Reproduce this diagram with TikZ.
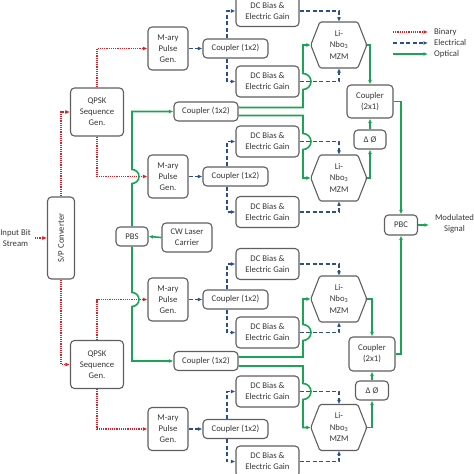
\documentclass[tikz,border=0pt]{standalone}
\usepackage{fontspec}
\setmainfont{Carlito}
\usetikzlibrary{arrows.meta,calc}
\definecolor{boxc}{RGB}{95,95,95}
\definecolor{txtc}{RGB}{55,55,55}
\definecolor{binc}{RGB}{225,30,35}
\definecolor{elecc}{RGB}{45,80,140}
\definecolor{optc}{RGB}{25,165,85}
\newcommand\mzmhex[2]{%
  \node[hexin] (#1) at (#2) {Li-\\Nbo\textsubscript{3}\\MZM};
  \draw[draw=boxc, line width=1.1pt, rounded corners=1.5pt] (#1.west) -- ++(9,-23) -- ++(38,0) -- ++(9,23) -- ++(-9,23) -- ++(-38,0) -- cycle;}
\begin{document}
\begin{tikzpicture}[x=1pt,y=-1pt,
  every node/.style={font=\fontsize{8.7}{11}\selectfont, text=txtc},
  box/.style={draw=boxc, line width=1.1pt, fill=white, rounded corners=4pt, align=center, inner sep=1pt},
  hexin/.style={align=center, inner sep=0pt, minimum width=56pt, minimum height=46pt, font=\fontsize{8.7}{11.5}\selectfont},
  tip/.style={-{Latex[length=4.5pt,width=4pt]}},
  bin/.style={draw=binc, line width=1.5pt, dash pattern=on 1.2pt off 1pt, tip},
  elec/.style={draw=elecc, line width=1.4pt, dash pattern=on 4pt off 2.5pt, tip},
  opt/.style={draw=optc, line width=1.6pt, tip},
  mary/.style={box, minimum width=40pt, minimum height=43pt},
  qpsk/.style={box, minimum width=53pt, minimum height=48pt},
  csmall/.style={box, minimum width=65pt, minimum height=19pt},
  cbig/.style={box, minimum width=64pt, minimum height=19pt},
  dcb/.style={box, minimum width=63pt, minimum height=31pt},
  ctwo/.style={box, minimum width=46pt, minimum height=33pt},
  dphi/.style={box, minimum width=32pt, minimum height=19pt}]
\useasboundingbox (0,0) rectangle (474,474);

% ---------- nodes ----------
\node[box, minimum width=27pt, minimum height=82pt] (sp) at (61,238) {\rotatebox{90}{S/P Converter}};
\node[align=center, inner sep=1pt] (inp) at (15.5,238) {Input Bit\\Stream};
\node[qpsk] (q1) at (97,112) {QPSK\\Sequence\\Gen.};
\node[qpsk] (q2) at (97,364.5) {QPSK\\Sequence\\Gen.};
\node[mary] (m1) at (168,48.5) {M-ary\\Pulse\\Gen.};
\node[mary] (m2) at (168,176.5) {M-ary\\Pulse\\Gen.};
\node[mary] (m3) at (168,299.5) {M-ary\\Pulse\\Gen.};
\node[mary] (m4) at (168,429) {M-ary\\Pulse\\Gen.};
\node[csmall] (c1) at (235.5,48.5) {Coupler (1x2)};
\node[csmall] (c2) at (235.5,176.5) {Coupler (1x2)};
\node[csmall] (c3) at (235.5,299.5) {Coupler (1x2)};
\node[csmall] (c4) at (235.5,429) {Coupler (1x2)};
\node[cbig] (b1) at (206,111.5) {Coupler (1x2)};
\node[cbig] (b2) at (206,361) {Coupler (1x2)};
\node[box, minimum width=32pt, minimum height=19pt] (pbs) at (132,236.5) {PBS};
\node[box, minimum width=50pt, minimum height=29pt] (cw) at (187,237.5) {CW Laser\\Carrier};
\node[dcb] (d1) at (267.5,11) {DC Bias \&\\Electric Gain};
\node[dcb] (d2) at (267.5,81.5) {DC Bias \&\\Electric Gain};
\node[dcb] (d3) at (267.5,141.5) {DC Bias \&\\Electric Gain};
\node[dcb] (d4) at (267.5,212) {DC Bias \&\\Electric Gain};
\node[dcb] (d5) at (267.5,264) {DC Bias \&\\Electric Gain};
\node[dcb] (d6) at (267.5,332.5) {DC Bias \&\\Electric Gain};
\node[dcb] (d7) at (267.5,391.5) {DC Bias \&\\Electric Gain};
\node[dcb] (d8) at (267.5,461.5) {DC Bias \&\\Electric Gain};
\mzmhex{z1}{339,45}
\mzmhex{z2}{339,178}
\mzmhex{z3}{339,299}
\mzmhex{z4}{339,427.5}
\node[ctwo] (k1) at (370,101.5) {Coupler\\(2x1)};
\node[ctwo, minimum height=34pt] (k2) at (372,354) {Coupler\\(2x1)};
\node[dphi] (p1) at (370,139.5) {Δ Ø};
\node[dphi, minimum width=33pt] (p2) at (372,390.5) {Δ Ø};
\node[box, minimum width=33pt, minimum height=20pt] (pbc) at (401,225) {PBC};
\node[align=center, inner sep=0pt] (mod) at (454.5,224) {Modulated\\Signal};
\coordinate (modend) at (429,225);

% legend
\coordinate (lg1) at (393,32);
\coordinate (lg2) at (393,43);
\coordinate (lg3) at (393,54);
\node[anchor=west, inner sep=0pt] (lt1) at (434,32) {Binary};
\node[anchor=west, inner sep=0pt] (lt2) at (434,43) {Electrical};
\node[anchor=west, inner sep=0pt] (lt3) at (434,54) {Optical};
\draw[bin] (lg1) -- ([xshift=-6pt]lt1.west);
\draw[elec] (lg2) -- ([xshift=-6pt]lt2.west);
\draw[opt] (lg3) -- ([xshift=-6pt]lt3.west);

% ---------- binary ----------
\draw[bin, shorten <=3pt] (inp.east) -- (sp.west);
\draw[bin] (sp.north) |- (q1.west);
\draw[bin] (sp.south) |- (q2.west);
\draw[bin] (q1.north) |- (m1.west);
\draw[bin] (q1.south) |- (m2.west);
\draw[bin] (q2.north) |- (m3.west);
\draw[bin] (q2.south) |- (m4.west);

% ---------- electrical ----------
\foreach \m/\c/\u/\l/\z in {m1/c1/d1/d2/z1, m2/c2/d3/d4/z2, m3/c3/d5/d6/z3, m4/c4/d7/d8/z4}{
  \draw[elec] (\m.east) -- (\c.west);
  \draw[elec] ([xshift=-8.5pt]\c.north) |- (\u.west);
  \draw[elec] ([xshift=-8.5pt]\c.south) |- (\l.west);
  \draw[elec] (\u.east) -| (\z.north);
  \draw[elec] (\l.east) -| (\z.south);
}

% ---------- optical ----------
\coordinate (hp1) at (pbs.north |- m2.west);
\coordinate (hp2) at (pbs.south |- m3.west);
\coordinate (hx1) at (303,81.5);
\coordinate (hx2) at (303,141.5);
\coordinate (hx3) at (303,332.5);
\coordinate (hx4) at (303,391.5);
\draw[opt] (cw.west) -- (pbs.east);
\draw[opt] (pbs.north) -- ([yshift=-7pt]hp1) arc[start angle=-90,end angle=90,radius=7pt] |- (b1.west);
\draw[opt] (pbs.south) -- ([yshift=7pt]hp2) arc[start angle=90,end angle=-90,radius=7pt] |- (b2.west);
\draw[opt] ([yshift=4pt]b1.east) -| ([yshift=-8pt]hx1) arc[start angle=-90,end angle=90,radius=8pt] |- (z1.west);
\draw[opt] ([yshift=-4pt]b1.east) -| ([yshift=8pt]hx2) arc[start angle=90,end angle=-90,radius=8pt] |- (z2.west);
\draw[opt] ([yshift=4pt]b2.east) -| ([yshift=-8pt]hx3) arc[start angle=-90,end angle=90,radius=8pt] |- (z3.west);
\draw[opt] ([yshift=-5pt]b2.east) -| ([yshift=8pt]hx4) arc[start angle=90,end angle=-90,radius=8pt] |- (z4.west);
\draw[opt] (z1.east) -| (k1.north);
\draw[opt] (z2.east) -| (p1.south);
\draw[opt] (p1.north) -- (k1.south);
\draw[opt] (z3.east) -| (k2.north);
\draw[opt] (z4.east) -| (p2.south);
\draw[opt] (p2.north) -- (k2.south);
\draw[opt] (k1.east) -| (pbc.north);
\draw[opt] (k2.east) -| (pbc.south);
\draw[opt] (pbc.east) -- (modend);
\end{tikzpicture}
\end{document}
